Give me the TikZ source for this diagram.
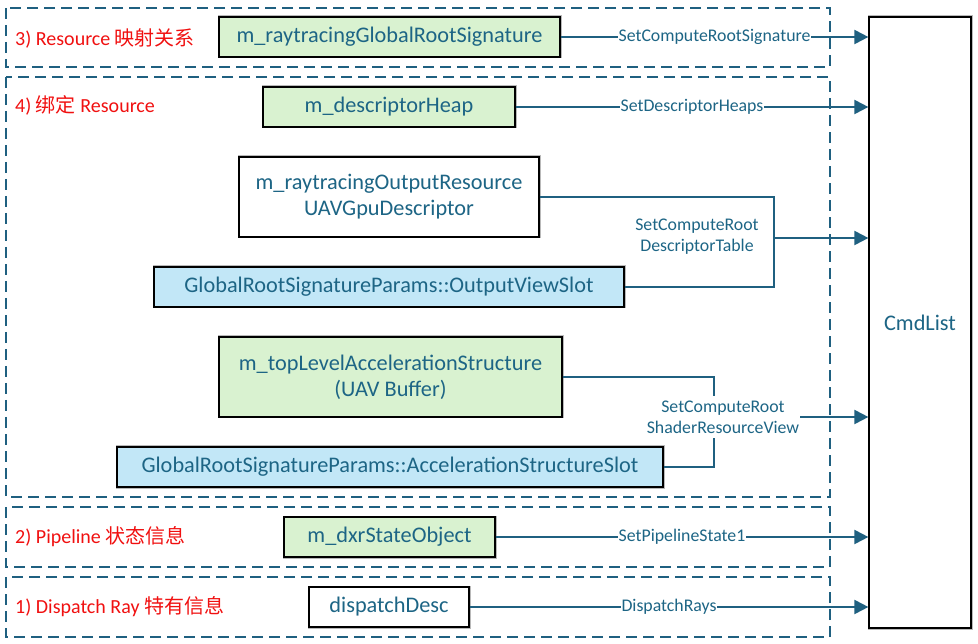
\documentclass[tikz,border=0pt]{standalone}
\usepackage{fontspec}
\setmainfont{Carlito}
\newfontfamily\cjk{Noto Sans CJK SC}
\usetikzlibrary{arrows.meta}
\definecolor{lineblue}{HTML}{1F6080}
\definecolor{txtblue}{HTML}{1D6585}
\definecolor{boxgreen}{HTML}{D9F2D0}
\definecolor{boxblue}{HTML}{C2E7F7}
\definecolor{grpred}{HTML}{F01010}
\tikzset{
  box/.style={draw=black, line width=1.3pt, preaction={draw=gray!55, line width=3pt},
    text=txtblue, font=\fontsize{22.3}{26}\selectfont, align=center, inner sep=0pt},
  gbox/.style={box, fill=boxgreen},
  bbox/.style={box, fill=boxblue},
  wbox/.style={box, fill=white},
  grp/.style={draw=lineblue, line width=1.5pt, dash pattern=on 11pt off 6pt},
  grptitle/.style={anchor=west, text=grpred, font=\fontsize{20}{24}\selectfont, inner sep=0pt},
  conn/.style={draw=lineblue, line width=2pt},
  arr/.style={conn, -{Triangle[length=14pt,width=14pt]}},
  lbl/.style={text=txtblue, font=\fontsize{17.8}{21}\selectfont, fill=white, inner sep=0.5pt, align=center},
  lblfree/.style={text=txtblue, font=\fontsize{17.8}{21}\selectfont, inner sep=1pt, align=center}
}
\begin{document}
\begin{tikzpicture}[x=1pt,y=-1pt]
\useasboundingbox (0,0) rectangle (978,644);
% groups
\draw[grp] (6,8) rectangle (830,67);
\draw[grp] (6,77) rectangle (830,497);
\draw[grp] (6,507) rectangle (830,567);
\draw[grp] (6,577) rectangle (830,637);
\node[grptitle] (t3) at (15,38) {3) Resource {\cjk 映射关系}};
\node[grptitle] (t4) at (15,105) {4) {\cjk 绑定} Resource};
\node[grptitle] (t2) at (15,537) {2) Pipeline {\cjk 状态信息}};
\node[grptitle] (t1) at (15,607) {1) Dispatch Ray {\cjk 特有信息}};
% cmdlist
\node[box, fill=white, line width=1.2pt, minimum width=102pt, minimum height=611pt] (cmd) at (920,322.5) {CmdList};
% nodes
\node[gbox, minimum width=341pt, minimum height=40pt] (sig) at (389.5,37) {m\_raytracingGlobalRootSignature};
\node[gbox, minimum width=252pt, minimum height=40pt] (heap) at (389,107) {m\_descriptorHeap};
\node[wbox, minimum width=300pt, minimum height=80pt] (outres) at (389,197) {m\_raytracingOutputResource\\UAVGpuDescriptor};
\node[bbox, minimum width=470pt, minimum height=40pt] (ovs) at (389,287) {GlobalRootSignatureParams::OutputViewSlot};
\node[gbox, minimum width=343pt, minimum height=80pt] (tlas) at (390.5,377) {m\_topLevelAccelerationStructure\\(UAV Buffer)};
\node[bbox, minimum width=546pt, minimum height=40pt] (ass) at (390,467) {GlobalRootSignatureParams::AccelerationStructureSlot};
\node[gbox, minimum width=211pt, minimum height=40pt] (pso) at (389.5,537) {m\_dxrStateObject};
\node[wbox, minimum width=160pt, minimum height=40pt] (disp) at (389,607) {dispatchDesc};
% simple arrows
\draw[arr] (sig.east) -- node[lbl] {SetComputeRootSignature} (sig.east -| cmd.west);
\draw[arr] (heap.east) -- node[lbl] {SetDescriptorHeaps} (heap.east -| cmd.west);
\draw[arr] (pso.east) -- node[lbl] {SetPipelineState1} (pso.east -| cmd.west);
\draw[arr] (disp.east) -- node[lbl] {DispatchRays} (disp.east -| cmd.west);
% descriptor table
\coordinate (j1) at (774,238);
\draw[conn] (outres.east) -| (j1) |- (ovs.east);
\draw[arr] (j1) -- (j1 -| cmd.west);
\node[lblfree] (dtl) at (697,237) {SetComputeRoot\\DescriptorTable};
% SRV
\coordinate (jt) at (714,396);
\coordinate (jb) at (714,438);
\draw[conn] (tlas.east) -| (jt);
\draw[conn] (ass.east) -| (jb);
\node[lblfree] (srv) at (723,417) {SetComputeRoot\\ShaderResourceView};
\draw[arr] (srv.east) -- (srv.east -| cmd.west);
\end{tikzpicture}
\end{document}
